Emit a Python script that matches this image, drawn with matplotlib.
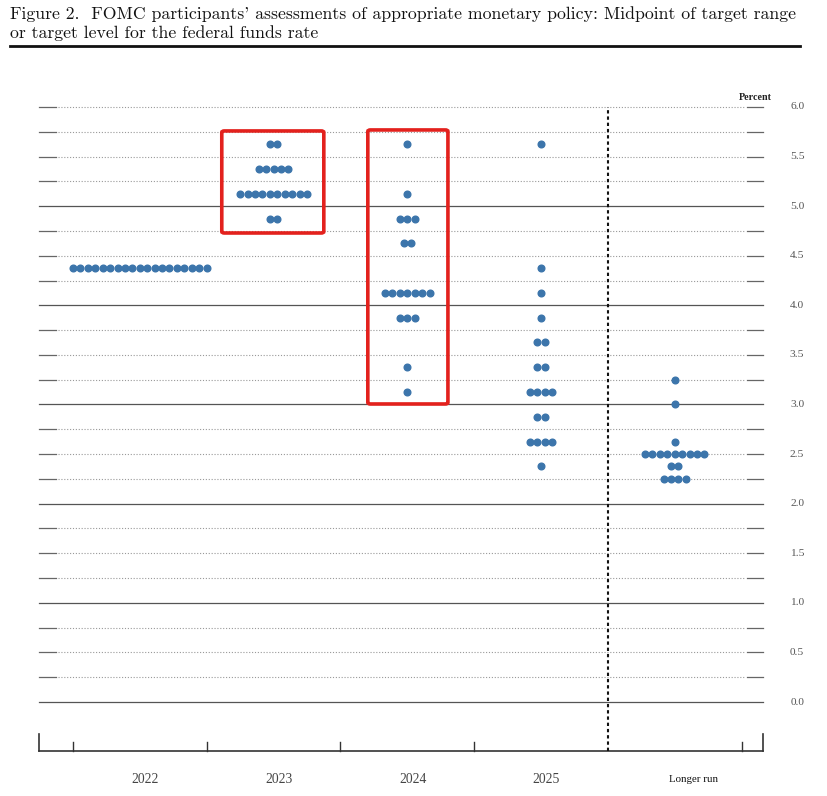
import numpy as np
import matplotlib
matplotlib.use("Agg")
import matplotlib.pyplot as plt
from matplotlib.patches import FancyBboxPatch
from matplotlib.lines import Line2D

# December 2022 SEP dot plot
periods = ["2022", "2023", "2024", "2025", "Longer run"]
mid_2022 = [4.375]
cnt_2022 = [19]
mid_2023 = [5.625, 5.375, 5.125, 4.875]
cnt_2023 = [2, 5, 10, 2]
mid_2024 = [5.625, 5.125, 4.875, 4.625, 4.125, 3.875, 3.375, 3.125]
cnt_2024 = [1, 1, 3, 2, 7, 3, 1, 1]
mid_2025 = [5.625, 4.375, 4.125, 3.875, 3.625, 3.375, 3.125, 2.875, 2.625, 2.375]
cnt_2025 = [1, 1, 1, 1, 2, 2, 4, 2, 4, 1]
mid_lr = [3.25, 3.0, 2.625, 2.5, 2.375, 2.25]
cnt_lr = [1, 1, 1, 9, 2, 4]
yticks = [0.0, 0.5, 1.0, 1.5, 2.0, 2.5, 3.0, 3.5, 4.0, 4.5, 5.0, 5.5, 6.0]

mids = [mid_2022, mid_2023, mid_2024, mid_2025, mid_lr]
cnts = [cnt_2022, cnt_2023, cnt_2024, cnt_2025, cnt_lr]

W, H = 828, 796
fig = plt.figure(figsize=(W / 100, H / 100), dpi=100)

# axes placed so that one column = 1 unit, one percent = 1 unit
x0, x1 = -0.75, 4.66
y0, y1 = -0.494, 6.07
ax = fig.add_axes([39.5 / W, 45 / H, (763 - 39.5) / W, (751 - 100) / H])
ax.set_xlim(x0, x1)
ax.set_ylim(y0, y1)
ax.axis("off")

# title
serif = ["cmr10", "DejaVu Serif"]
fig.text(10 / W, 1 - 6 / H,
         "Figure 2.  FOMC participants' assessments of appropriate monetary policy: Midpoint of target range\n"
         "or target level for the federal funds rate",
         ha="left", va="top", fontsize=12.75, family=serif, color="#111", linespacing=1.3)
fig.add_artist(Line2D([10 / W, 800 / W], [1 - 46 / H, 1 - 46 / H], color="#111", lw=2.0))

# grid lines
for y in np.arange(0, 6.01, 0.25):
    if abs(y - round(y)) < 1e-9 and y < 5.9:
        ax.plot([x0, x1], [y, y], color="#555", lw=0.9, clip_on=False, zorder=1)
    else:
        ax.plot([x0, -0.63], [y, y], color="#666", lw=0.9, clip_on=False, zorder=1)
        ax.plot([4.54, x1], [y, y], color="#666", lw=0.9, clip_on=False, zorder=1)
        ax.plot([-0.61, 4.525], [y, y], color="#999", lw=0.8, ls=(0, (1, 1.6)),
                clip_on=False, zorder=1)

# right-hand tick labels
for t in yticks:
    ax.text(4.66 + 0.255, t, f"{t:.1f}", ha="center", va="center",
            fontsize=8.2, family="Liberation Serif", color="#555")
ax.text(4.60, 6.10, "Percent", ha="center", va="center", fontsize=7.2,
        family="Liberation Serif", fontweight="bold", color="#222")

# bottom axis
ax.plot([x0, x1], [y0, y0], color="#333", lw=1.2, clip_on=False)
for xe in [x0, x1]:
    ax.plot([xe, xe], [y0, -0.32], color="#333", lw=1.2, clip_on=False)
for xt in [-0.5, 0.5, 1.5, 2.5, 4.5]:
    ax.plot([xt, xt], [y0, -0.40], color="#333", lw=1.0, clip_on=False)
ax.plot([3.5, 3.5], [y0, 6.0], color="#111", lw=1.5, ls=(0, (1.6, 1.4)), clip_on=False, zorder=2)

label_x = [0.04, 1.04, 2.04, 3.04, 4.14]
for i, p in enumerate(periods):
    if p == "Longer run":
        ax.text(label_x[i], -0.785, p, ha="center", va="center", fontsize=7.8,
                family="Liberation Serif", color="#111")
    else:
        ax.text(label_x[i], -0.785, p, ha="center", va="center", fontsize=9.8,
                family="Liberation Serif", color="#444")

# dots
step = 0.0555
for i in range(len(periods)):
    for m, n in zip(mids[i], cnts[i]):
        xs = i + (np.arange(n) - (n - 1) / 2) * step
        ax.plot(xs, [m] * n, "o", color="#3c75ab", ms=4.8, mec="#3c75ab", zorder=3,
                clip_on=False)

# red highlight boxes
for (bx0, bx1, by0, by1) in [(0.613, 1.376, 4.729, 5.758), (1.705, 2.304, 3.005, 5.768)]:
    box = FancyBboxPatch((bx0, by0), bx1 - bx0, by1 - by0,
                         boxstyle="round,pad=0,rounding_size=0.02",
                         fill=False, ec="#e3211d", lw=2.6, zorder=4,
                         mutation_aspect=0.74, clip_on=False)
    ax.add_patch(box)

fig.savefig("out.png", dpi=100)
